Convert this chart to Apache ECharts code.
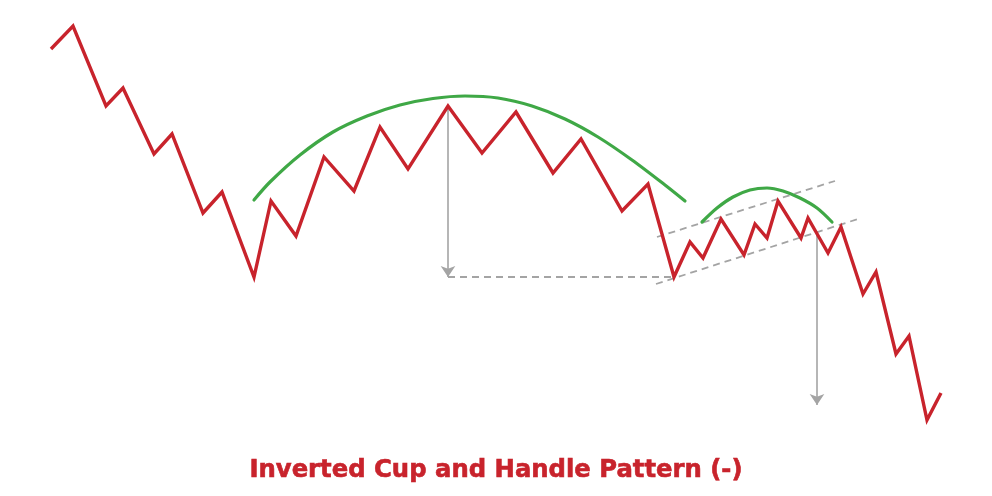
<!DOCTYPE html>
<html>
<head>
<meta charset="utf-8">
<script src="https://cdn.jsdelivr.net/npm/echarts@6/dist/echarts.min.js"></script>
<style>
html,body{margin:0;padding:0;background:#fff;}
#c{width:992px;height:496px;}
</style>
</head>
<body>
<div id="c"></div>
<script>
// Price path (time, price)
var priceTimes = [51,73,106,123,154,172,203,222,254,271,296,324,354,380,408,448,482,516,553,581,622,648,674,690,703,721,744,755,767,778,801,808,828,841,863,876,896,909,927,941];
var priceValues = [447,470,390,408,342,362,283,304,219,295,260,339,305,369,327,390,343,384,323,357,285,312,219,254,238,277,241,272,258,295,258,278,243,269,202,224,142,160,76,103];

// Cup outline (green arc)
var cupTimes = [254,270,300,333,367,400,433,465,498,532,565,598,632,665,685];
var cupValues = [296,314,341,364,380,391,397.5,400,398,390,377,359,336,311,295];

// Handle outline (small green arc)
var handleTimes = [702,717,733,750,767,783,800,817,832];
var handleValues = [274,288,299,306,308,305,298,288,274];

// Handle channel (dashed)
var channelUpperTimes = [657,835];
var channelUpperValues = [259,315];
var channelLowerTimes = [656,858];
var channelLowerValues = [212,277];

// Cup base line (dashed)
var baseTimes = [448,674];
var baseValues = [219,219];

// Measured-move arrows
var arrowTimes = [448,817];
var arrowFrom = [390,263];
var arrowTo = [219,91];

var titleText = 'Inverted Cup and Handle Pattern (-)';

function zip(xs, ys){ return xs.map(function(x,i){ return [x, ys[i]]; }); }

var RED = '#c8232c', GREEN = '#3fa846', GRAY = '#a4a4a4';

var chart = echarts.init(document.getElementById('c'), null, {renderer:'canvas'});
chart.setOption({
  animation: false,
  backgroundColor: '#ffffff',
  title: {
    text: titleText,
    left: 'center',
    top: 454,
    textStyle: {fontFamily: 'DejaVu Sans', fontWeight: 'bold', fontSize: 24.3, color: RED,
                textBorderColor: RED, textBorderWidth: 0.6}
  },
  grid: {left: 0, right: 0, top: 0, bottom: 0},
  xAxis: {type: 'value', min: 0, max: 992, show: false},
  yAxis: {type: 'value', min: 0, max: 496, show: false},
  series: [
    {type: 'line', data: zip(cupTimes, cupValues), smooth: 0.3, symbol: 'none',
     lineStyle: {color: GREEN, width: 3.2, cap: 'round'}, z: 2},
    {type: 'line', data: zip(handleTimes, handleValues), smooth: 0.3, symbol: 'none',
     lineStyle: {color: GREEN, width: 3.2, cap: 'round'}, z: 2},
    {type: 'line', data: zip(channelUpperTimes, channelUpperValues), symbol: 'none',
     lineStyle: {color: GRAY, width: 1.8, type: [7,5]}, z: 1},
    {type: 'line', data: zip(channelLowerTimes, channelLowerValues), symbol: 'none',
     lineStyle: {color: GRAY, width: 1.8, type: [7,5]}, z: 1},
    {type: 'line', data: zip(baseTimes, baseValues), symbol: 'none',
     lineStyle: {color: GRAY, width: 1.8, type: [7,5]}, z: 1},
    {type: 'lines', coordinateSystem: 'cartesian2d', z: 1,
     symbol: ['none', 'arrow'], symbolSize: [8, 11],
     lineStyle: {color: GRAY, width: 1.6, opacity: 1},
     data: arrowTimes.map(function(t,i){ return {coords: [[t, arrowFrom[i]], [t, arrowTo[i]]]}; })},
    {type: 'line', data: zip(priceTimes, priceValues), symbol: 'none',
     lineStyle: {color: RED, width: 3.4, join: 'miter', miterLimit: 10}, z: 5}
  ]
});
</script>
</body>
</html>
